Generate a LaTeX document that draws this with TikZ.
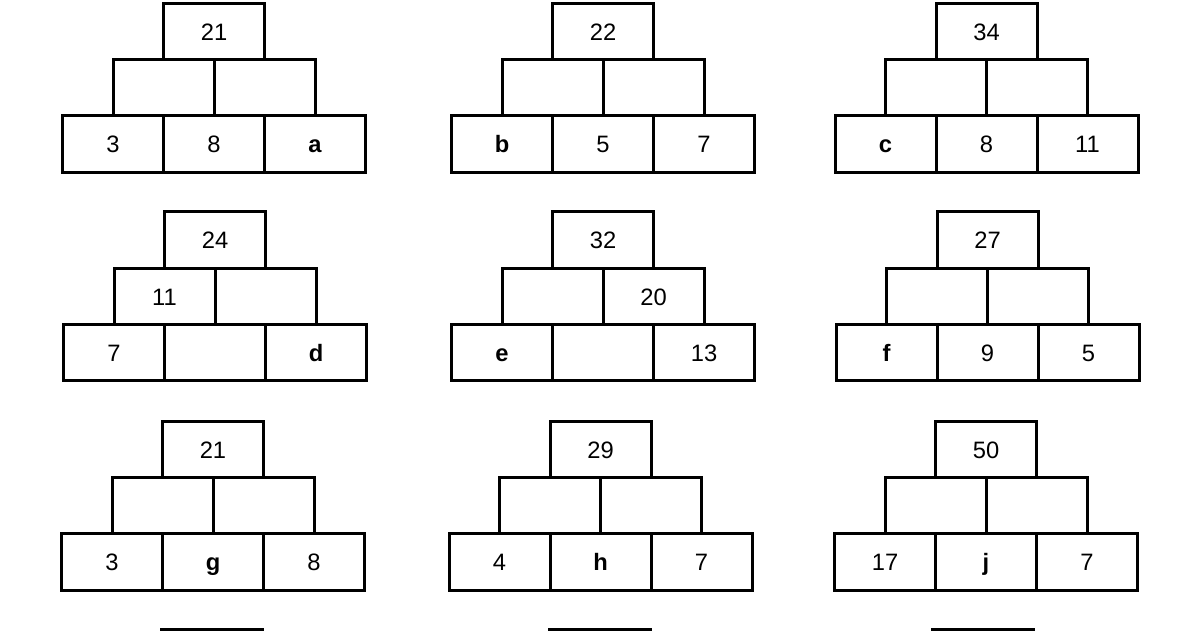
\documentclass[tikz,border=0pt]{standalone}
\usepackage{fontspec}
\setmainfont{Liberation Sans}
\usetikzlibrary{arrows}
\tikzstyle{cell} = [rectangle, 
minimum width=2.02cm, 
minimum height=1.125cm,
inner sep=0pt, outer sep=0pt,
text centered, 
text height=1em, text depth=0pt,
draw=black, 
line width=0.06cm,
font=\fontsize{13.5pt}{15pt}\selectfont]
\tikzstyle{stub} = [cell, minimum height=1.125cm]

\begin{document}
\begin{tikzpicture}[node distance=2.02cm]

\fill[white] (0,0) rectangle (24,-12.6);
\useasboundingbox (0,0) rectangle (24,-12.6);
\clip (0,0) rectangle (24,-12.6);

\foreach \px/\py/\vt/\vml/\vmr/\va/\vb/\vc [count=\i] in {
4.28/-2.88/21/{}/{}/3/8/\textbf{a},
12.06/-2.88/22/{}/{}/\textbf{b}/5/7,
19.73/-2.88/34/{}/{}/\textbf{c}/8/11,
4.30/-7.05/24/11/{}/7/{}/\textbf{d},
12.06/-7.05/32/{}/20/\textbf{e}/{}/13,
19.75/-7.05/27/{}/{}/\textbf{f}/9/5,
4.26/-11.24/21/{}/{}/3/\textbf{g}/8,
12.01/-11.24/29/{}/{}/4/\textbf{h}/7,
19.72/-11.24/50/{}/{}/17/\textbf{j}/7}
{
\node (mid\i) [cell] at (\px,\py) {\vb};
\node (left\i) [cell, left of=mid\i] {\va};
\node (right\i) [cell, right of=mid\i] {\vc};
\node (ml\i) [cell, node distance=1.125cm, above of=left\i, xshift=1.01cm] {\vml};
\node (mr\i) [cell, right of=ml\i] {\vmr};
\node (top\i) [cell, node distance=1.125cm, above of=ml\i, xshift=1.01cm] {\vt};
}

% next row, cut off by the page
\node (top10) [stub] at (4.24,-13.15) {};
\node (top11) [stub] at (11.99,-13.15) {};
\node (top12) [stub] at (19.66,-13.15) {};

\end{tikzpicture}
\end{document}
